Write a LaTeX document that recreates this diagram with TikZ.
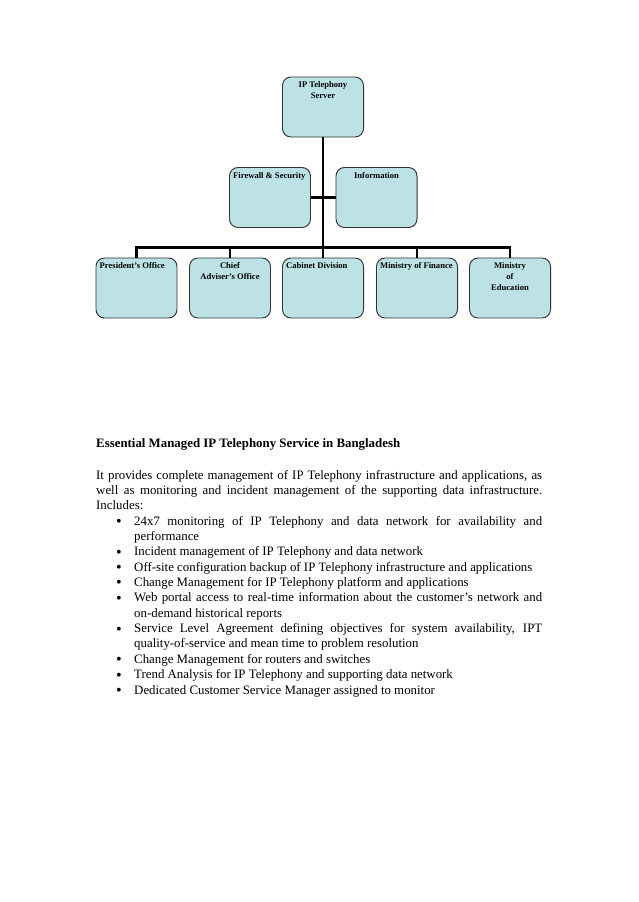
\documentclass[tikz,border=0pt]{standalone}
\usepackage{fontspec}
\setmainfont{Liberation Serif}
\definecolor{boxfill}{RGB}{188,226,230}
\definecolor{boxline}{RGB}{50,50,50}
\newcommand{\bxL}[1]{\parbox[c][56pt][t]{75.6pt}{\fontsize{8}{10}\selectfont\bfseries\raggedright\leftskip=3.5pt\vspace*{4.5pt}#1}}
\newcommand{\bxC}[1]{\parbox[c][56pt][t]{75.6pt}{\fontsize{8}{10}\selectfont\bfseries\centering\vspace*{4.5pt}#1\par}}
\newcommand{\jline}[1]{\makebox[#1][s]}
\tikzset{
  orgbox/.style={draw=boxline, fill=boxfill, line width=0.9pt, rounded corners=8pt, inner sep=0pt},
  conn/.style={draw=black, line width=2.3pt},
  txt/.style={anchor=base west, inner sep=0pt, font=\fontsize{12}{14}\selectfont},
  bul/.style={anchor=base, inner sep=0pt, font=\fontsize{15}{14}\selectfont}
}
\begin{document}
\begin{tikzpicture}[x=0.93304pt,y=-0.93304pt]
\useasboundingbox (0,0) rectangle (638,902);
% boxes
\node[orgbox] (ip) at (323,107) {\bxC{IP Telephony\\Server}};
\node[orgbox] (fw) at (270,197.5) {\bxL{Firewall \& Security}};
\node[orgbox] (info) at (376.5,197.5) {\bxC{Information}};
\node[orgbox] (pres) at (136.5,288) {\bxL{President's Office}};
\node[orgbox] (chief) at (230,288) {\bxC{Chief\\Adviser's Office}};
\node[orgbox] (cab) at (323,288) {\bxL{Cabinet Division}};
\node[orgbox] (fin) at (417,288) {\bxL{Ministry of Finance}};
\node[orgbox] (edu) at (510,288) {\bxC{Ministry\\of\\Education}};
% connectors
\draw[conn] (ip.south) -- (cab.north);
\draw[conn] (fw.east) -- (info.west);
\draw[conn, line join=miter] (pres.north) -- ++(0,-10) -| (edu.north);
\draw[conn] (chief.north) -- ++(0,-10);
\draw[conn] (fin.north) -- ++(0,-10);
% text
\node[txt] (title) at (96,447) {\bfseries Essential Managed IP Telephony Service in Bangladesh};
\node[txt] (p1) at (96,479) {\jline{416.1pt}{It provides complete management of IP Telephony infrastructure and applications, as}};
\node[txt] (p2) at (96,494.4) {\jline{416.1pt}{well as monitoring and incident management of the supporting data infrastructure.}};
\node[txt] (p3) at (96,509.7) {Includes:};
% bullets
\foreach \yy [count=\i] in {525,555.7,571.1,586.4,601.8,632.5,663.2,678.6,694}{
  \node[bul] (b\i) at (119,\yy+1.5) {•};
}
\node[txt] (l1) at (134,525) {\jline{380.7pt}{24x7 monitoring of IP Telephony and data network for availability and}};
\node[txt] (l2) at (134,540.4) {performance};
\node[txt] (l3) at (134,555.7) {Incident management of IP Telephony and data network};
\node[txt] (l4) at (134,571.1) {Off-site configuration backup of IP Telephony infrastructure and applications};
\node[txt] (l5) at (134,586.4) {Change Management for IP Telephony platform and applications};
\node[txt] (l6) at (134,601.8) {\jline{380.7pt}{Web portal access to real-time information about the customer’s network and}};
\node[txt] (l7) at (134,617.2) {on-demand historical reports};
\node[txt] (l8) at (134,632.5) {\jline{380.7pt}{Service Level Agreement defining objectives for system availability, IPT}};
\node[txt] (l9) at (134,647.9) {quality-of-service and mean time to problem resolution};
\node[txt] (l10) at (134,663.2) {Change Management for routers and switches};
\node[txt] (l11) at (134,678.6) {Trend Analysis for IP Telephony and supporting data network};
\node[txt] (l12) at (134,694) {Dedicated Customer Service Manager assigned to monitor};
\end{tikzpicture}
\end{document}
